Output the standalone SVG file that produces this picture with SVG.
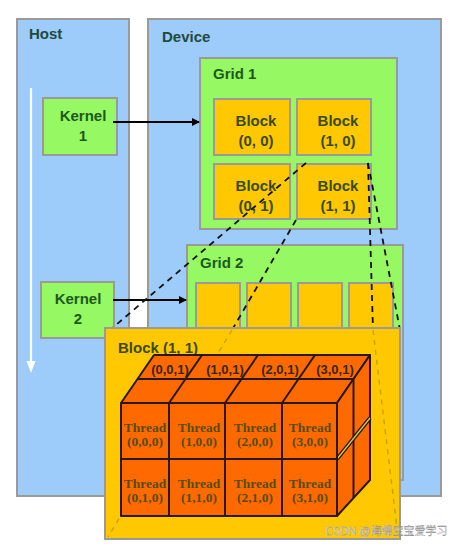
<svg xmlns="http://www.w3.org/2000/svg" width="459" height="548" viewBox="0 0 459 548">
<defs>
<style>
.panel{fill:#9dcbfa;stroke:#9a9a9a;stroke-width:2}
.green{fill:#96f862;stroke:#9a9a9a;stroke-width:2}
.yel{fill:#ffc800;stroke:#9a9a9a;stroke-width:2}
.lbl{font-family:"Liberation Sans",Arial,sans-serif;font-weight:bold;font-size:15px}
.dark{fill:#1f4a3e}
.kt{fill:#1c5a1c}
.bt{fill:#3d4a0e}
.cell{fill:#ff6a00;stroke:#2a1800;stroke-width:2;stroke-linejoin:round}
.th{font-family:"Liberation Serif","Times New Roman",serif;font-weight:bold;font-size:13.5px;fill:#5a4a08;text-anchor:middle}
.tl{font-family:"Liberation Sans",Arial,sans-serif;font-weight:bold;font-size:13px;fill:#3a2600;text-anchor:middle}
.dash{stroke:#111;stroke-width:1.8;stroke-dasharray:6 5;fill:none}
.faint{stroke:#c9a200;stroke-width:1.4;stroke-dasharray:5 5;fill:none}
.arr{stroke:#000;stroke-width:1.8;fill:none}
</style>
<marker id="ah" markerWidth="8" markerHeight="8" refX="7" refY="4" orient="auto" markerUnits="userSpaceOnUse">
<path d="M0,0 L8,4 L0,8 Z" fill="#000"/>
</marker>
<marker id="wh" markerWidth="10" markerHeight="12" refX="5" refY="11" orient="auto-start-reverse" markerUnits="userSpaceOnUse">
<path d="M0,0 L5,11 L10,0 Z" fill="#ffffff"/>
</marker>
</defs>

<g id="host">
<rect class="panel" x="17" y="19" width="112" height="477"/>
<text class="lbl dark" x="29" y="39">Host</text>
<line x1="31" y1="88" x2="31" y2="362" stroke="#ffffff" stroke-width="2.2"/>
<path d="M26.5,361 L31,373 L35.5,361 Z" fill="#ffffff"/>
</g>

<g id="device">
<rect class="panel" x="148" y="19" width="293" height="477"/>
<text class="lbl dark" x="162" y="42">Device</text>
</g>

<g id="kernel1">
<rect class="green" x="43" y="98" width="74" height="57"/>
<text class="lbl kt" x="83" y="121" text-anchor="middle">Kernel</text>
<text class="lbl kt" x="83" y="141" text-anchor="middle">1</text>
</g>

<g id="kernel2">
<rect class="green" x="41" y="282" width="73" height="56"/>
<text class="lbl kt" x="78" y="304" text-anchor="middle">Kernel</text>
<text class="lbl kt" x="78" y="324" text-anchor="middle">2</text>
</g>

<g id="grid1">
<rect class="green" x="200" y="58" width="197" height="171"/>
<text class="lbl kt" x="213" y="79">Grid 1</text>
</g>
<g id="block00">
<rect class="yel" x="214" y="99" width="76" height="56"/>
<text class="lbl bt" x="256" y="126" text-anchor="middle">Block</text>
<text class="lbl bt" x="256" y="146" text-anchor="middle">(0, 0)</text>
</g>
<g id="block10">
<rect class="yel" x="297" y="99" width="74" height="56"/>
<text class="lbl bt" x="338" y="126" text-anchor="middle">Block</text>
<text class="lbl bt" x="338" y="146" text-anchor="middle">(1, 0)</text>
</g>
<g id="block01">
<rect class="yel" x="214" y="164" width="76" height="55"/>
<text class="lbl bt" x="256" y="191" text-anchor="middle">Block</text>
<text class="lbl bt" x="256" y="211" text-anchor="middle">(0, 1)</text>
</g>
<g id="block11">
<rect class="yel" x="297" y="164" width="74" height="55"/>
<text class="lbl bt" x="338" y="191" text-anchor="middle">Block</text>
<text class="lbl bt" x="338" y="211" text-anchor="middle">(1, 1)</text>
</g>

<g id="grid2">
<rect class="green" x="187" y="245" width="216" height="235"/>
<text class="lbl kt" x="200" y="268">Grid 2</text>
<rect class="yel" x="196" y="283" width="44" height="60"/>
<rect class="yel" x="247" y="283" width="44" height="60"/>
<rect class="yel" x="298" y="283" width="44" height="60"/>
<rect class="yel" x="349" y="283" width="44" height="60"/>
</g>

<g id="connectors">
<line class="arr" x1="113" y1="122" x2="199" y2="122" marker-end="url(#ah)"/>
<line class="arr" x1="113" y1="300" x2="186" y2="300" marker-end="url(#ah)"/>
<line class="dash" x1="306" y1="163" x2="110" y2="330"/>
<line class="dash" x1="296" y1="220" x2="232" y2="330"/>
<line class="dash" x1="368" y1="163" x2="373" y2="330"/>
<line class="dash" x1="368" y1="163" x2="400" y2="330"/>
</g>

<g id="block11-detail">
<rect class="yel" x="105" y="328" width="295" height="211"/>
<text class="lbl bt" x="118" y="353">Block (1, 1)</text>
<line class="faint" x1="232" y1="330" x2="108" y2="537"/>
<line class="faint" x1="373" y1="330" x2="398" y2="536"/>
<!-- top face -->
<polygon class="cell" points="121,403 337,403 370,355 154,355"/>
<line class="cell" x1="137.5" y1="379" x2="353.5" y2="379"/>
<line class="cell" x1="169" y1="403" x2="202" y2="355"/>
<line class="cell" x1="225" y1="403" x2="258" y2="355"/>
<line class="cell" x1="282" y1="403" x2="315" y2="355"/>
<!-- right face -->
<polygon class="cell" points="337,403 370,355 370,480 337,516"/>
<line class="cell" x1="353.5" y1="379" x2="353.5" y2="498"/>
<line x1="337" y1="459" x2="370" y2="418" stroke="#2a1800" stroke-width="4"/>
<line x1="337" y1="459" x2="370" y2="418" stroke="#d8c84a" stroke-width="1.3"/>
<!-- front face -->
<rect class="cell" x="121" y="403" width="48" height="56"/>
<rect class="cell" x="169" y="403" width="56" height="56"/>
<rect class="cell" x="225" y="403" width="57" height="56"/>
<rect class="cell" x="282" y="403" width="55" height="56"/>
<rect class="cell" x="121" y="459" width="48" height="57"/>
<rect class="cell" x="169" y="459" width="56" height="57"/>
<rect class="cell" x="225" y="459" width="57" height="57"/>
<rect class="cell" x="282" y="459" width="55" height="57"/>
<text class="tl" x="170" y="374">(0,0,1)</text>
<text class="tl" x="225" y="374">(1,0,1)</text>
<text class="tl" x="280" y="374">(2,0,1)</text>
<text class="tl" x="335" y="374">(3,0,1)</text>
<text class="th" x="145" y="432">Thread</text>
<text class="th" x="145" y="446">(0,0,0)</text>
<text class="th" x="199" y="432">Thread</text>
<text class="th" x="199" y="446">(1,0,0)</text>
<text class="th" x="255" y="432">Thread</text>
<text class="th" x="255" y="446">(2,0,0)</text>
<text class="th" x="310" y="432">Thread</text>
<text class="th" x="310" y="446">(3,0,0)</text>
<text class="th" x="145" y="488">Thread</text>
<text class="th" x="145" y="502">(0,1,0)</text>
<text class="th" x="199" y="488">Thread</text>
<text class="th" x="199" y="502">(1,1,0)</text>
<text class="th" x="255" y="488">Thread</text>
<text class="th" x="255" y="502">(2,1,0)</text>
<text class="th" x="310" y="488">Thread</text>
<text class="th" x="310" y="502">(3,1,0)</text>
</g>

<text x="325" y="535" font-family="'Liberation Sans','Noto Sans CJK SC',sans-serif" font-size="11" fill="#f4f4f4" stroke="#8a8a8a" stroke-width="0.35">CSDN @海绵宝宝爱学习</text>
</svg>
